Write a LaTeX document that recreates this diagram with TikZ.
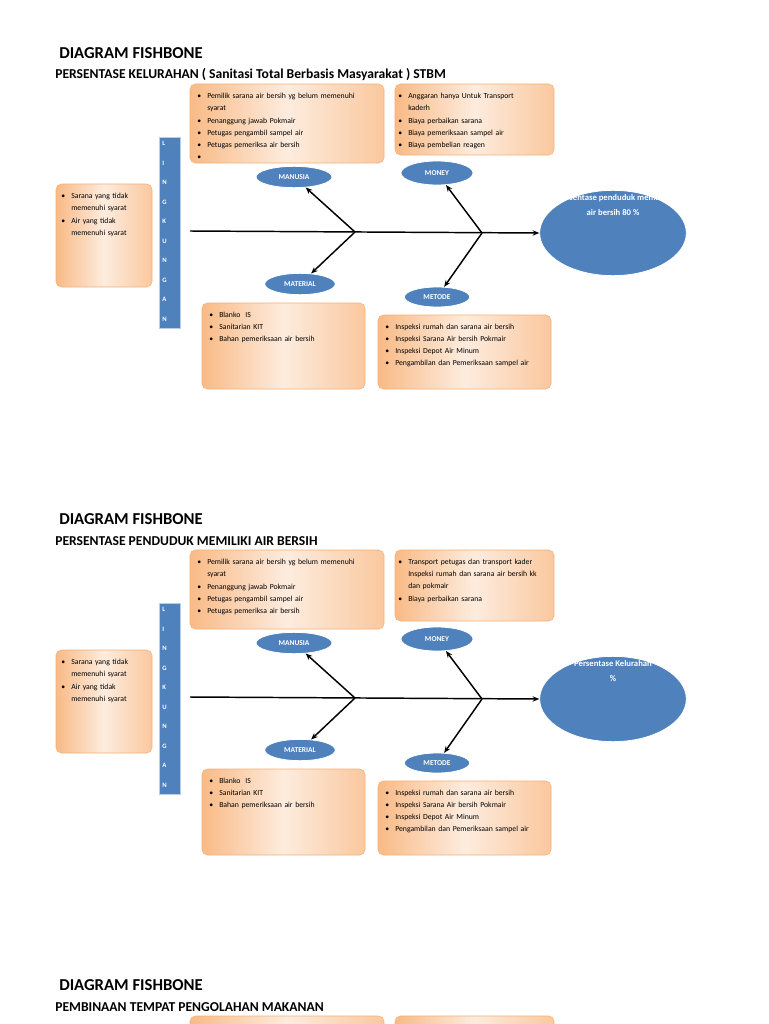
\documentclass[tikz,border=0pt]{standalone}
\usepackage{fontspec}
\setmainfont{Carlito}
\usetikzlibrary{shapes.geometric,arrows.meta}

\definecolor{boxedge}{RGB}{246,176,118}
\definecolor{boxdark}{RGB}{249,186,134}
\definecolor{boxlight}{RGB}{253,236,222}
\definecolor{fishblue}{RGB}{79,129,189}

\tikzset{
  causebox/.style={draw=boxedge, rounded corners=4pt, left color=boxdark, right color=boxdark!80, middle color=boxlight},
  causelist/.style={anchor=north west, inner sep=0pt, align=left, font=\fontsize{5.8}{9}\selectfont},
  catellipse/.style={ellipse, draw=white, line width=0.6pt, fill=fishblue, inner sep=0pt, font=\fontsize{5.6}{6}\bfseries\selectfont, text=white},
  bone/.style={line width=1.1pt, -{Stealth[length=5pt, width=4pt]}}
}

% one bullet line of a cause list
\newcommand\bul[1]{\par\noindent\makebox[7.5pt][l]{\textbullet}\parbox[t]{\dimexpr\linewidth-7.5pt}{\strut#1\strut}}

% #1 y offset, #2 name prefix, #3 subtitle, #4 manusia, #5 money, #6 material, #7 metode, #8 goal
\newcommand\fishdiagram[8]{%
  \begin{scope}[shift={(0,#1)}]
    % titles
    \node[anchor=west, inner sep=0pt, font=\fontsize{12.5}{13}\bfseries\selectfont] (#2title) at (59,53) {DIAGRAM FISHBONE};
    \node[anchor=west, inner sep=0pt, font=\fontsize{10.2}{11}\bfseries\selectfont] (#2sub) at (55,75) {#3};
    % cause boxes
    \path[causebox] (190,84) rectangle (384,163);
    \node[causelist, text width=122pt] (#2man) at (197,86) {#4};
    \path[causebox] (395,84) rectangle (554,155);
    \node[causelist, text width=104pt] (#2mon) at (398,86) {#5};
    \path[causebox] (202,303) rectangle (365,389);
    \node[causelist, text width=112pt] (#2mat) at (209,305) {#6};
    \path[causebox] (378,315) rectangle (551,389);
    \node[causelist, text width=124pt] (#2met) at (385,317) {#7};
    \path[causebox] (56,184) rectangle (152,287);
    \node[causelist, text width=58pt] (#2env) at (61,186) {\bul{Sarana yang tidak memenuhi syarat}\bul{Air yang tidak memenuhi syarat}};
    % lingkungan bar
    \path[fill=fishblue, draw=fishblue!40] (159,137) rectangle (180,328);
    \foreach \ch [count=\i] in {L,I,N,G,K,U,N,G,A,N}
      \node[anchor=west, inner sep=0pt, text=white, font=\fontsize{5}{6}\bfseries\selectfont] (#2bar\i) at (162,124+19.5*\i) {\ch};
    % categories
    \node[catellipse, minimum width=57pt, minimum height=16pt] (#2manusia) at (294,177) {MANUSIA\\[5pt]};
    \node[catellipse, minimum width=54pt, minimum height=18pt] (#2money) at (437,173) {MONEY\\[6pt]};
    \node[catellipse, minimum width=53pt, minimum height=16pt] (#2material) at (300,284) {MATERIAL\\[5pt]};
    \node[catellipse, minimum width=49pt, minimum height=15pt] (#2metode) at (437,297) {METODE\\[5pt]};
    \node[ellipse, draw=white, line width=0.6pt, fill=fishblue, minimum width=110pt, minimum height=64pt] (#2goal) at (613,233) {};
    \node[anchor=north, align=center, inner sep=0pt, text=white, font=\fontsize{6.5}{11}\bfseries\selectfont] (#2goaltext) at (613,194) {#8};
    % bones
    \coordinate (#2tail) at (190,231);
    \coordinate (#2j1) at (355,232);
    \coordinate (#2j2) at (482,233);
    \draw[bone] (#2tail) -- (#2goal.west);
    \draw[bone] (#2j1) -- (#2manusia);
    \draw[bone] (#2j1) -- (#2material);
    \draw[bone] (#2j2) -- (#2money);
    \draw[bone] (#2j2) -- (#2metode);
  \end{scope}}

\begin{document}
\begin{tikzpicture}[x=0.75pt,y=0.75pt,yscale=-1,xscale=1]
\useasboundingbox (0,0) rectangle (768,1024);
\clip (0,0) rectangle (768,1024);

%Diagram 1
\fishdiagram{0}{a}{PERSENTASE KELURAHAN ( Sanitasi Total Berbasis Masyarakat ) STBM}
  {\bul{Pemilik sarana air bersih yg belum memenuhi syarat}\bul{Penanggung jawab Pokmair}\bul{Petugas pengambil sampel air}\bul{Petugas pemeriksa air bersih}\bul{}}
  {\bul{Anggaran hanya Untuk Transport kaderh}\bul{Biaya perbaikan sarana}\bul{Biaya pemeriksaan sampel air}\bul{Biaya pembelian reagen}}
  {\bul{Blanko \ IS}\bul{Sanitarian KIT}\bul{Bahan pemeriksaan air bersih}}
  {\bul{Inspeksi rumah dan sarana air bersih}\bul{Inspeksi Sarana Air bersih Pokmair}\bul{Inspeksi Depot Air Minum}\bul{Pengambilan dan Pemeriksaan sampel air}}
  {Persentase penduduk memiliki\\air bersih 80 \%}

%Diagram 2
\fishdiagram{466}{b}{PERSENTASE PENDUDUK MEMILIKI AIR BERSIH}
  {\bul{Pemilik sarana air bersih yg belum memenuhi syarat}\bul{Penanggung jawab Pokmair}\bul{Petugas pengambil sampel air}\bul{Petugas pemeriksa air bersih}}
  {\bul{Transport petugas dan transport kader Inspeksi rumah dan sarana air bersih kk dan pokmair}\bul{Biaya perbaikan sarana}}
  {\bul{Blanko \ IS}\bul{Sanitarian KIT}\bul{Bahan pemeriksaan air bersih}}
  {\bul{Inspeksi rumah dan sarana air bersih}\bul{Inspeksi Sarana Air bersih Pokmair}\bul{Inspeksi Depot Air Minum}\bul{Pengambilan dan Pemeriksaan sampel air}}
  {Persentase Kelurahan\\\%}

%Diagram 3 (cut by the page)
\fishdiagram{932}{c}{PEMBINAAN TEMPAT PENGOLAHAN MAKANAN}
  {\bul{Pemilik /Penanggung jawab sarana tempat}}
  {\bul{Transport petugas inspeksi sarana}}
  {}{}{}
\end{tikzpicture}
\end{document}
